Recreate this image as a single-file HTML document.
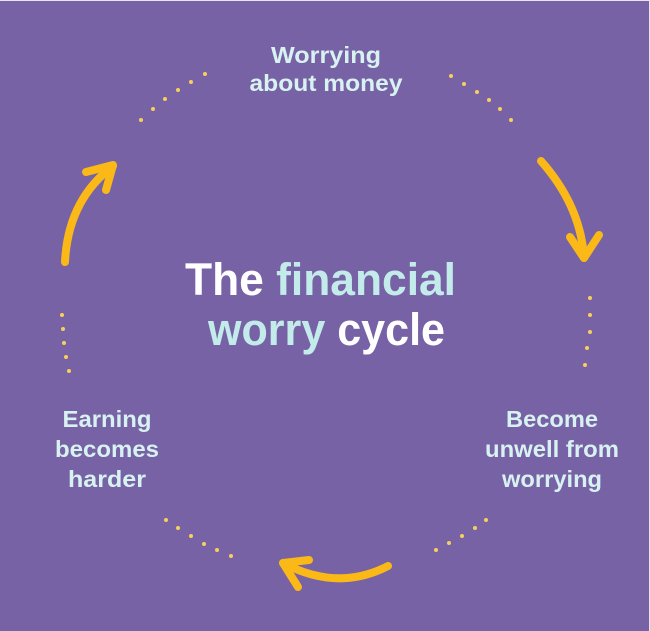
<!DOCTYPE html>
<html><head><meta charset="utf-8"><style>
html,body{margin:0;padding:0;background:#7762a6;}
svg{display:block;}
text{font-family:"Liberation Sans",sans-serif;font-weight:bold;}
</style></head><body>
<svg width="650" height="631" viewBox="0 0 650 631" xmlns="http://www.w3.org/2000/svg">
<rect width="650" height="631" fill="#7762a6"/>
<rect x="0" y="0" width="650" height="1" fill="#e8e4f0"/>
<rect x="649" y="0" width="1" height="631" fill="#e8e4f0"/>
<g fill="#f7cf5e">
<circle cx="141" cy="120" r="2"/><circle cx="153" cy="109" r="2"/><circle cx="165" cy="99" r="2"/><circle cx="178" cy="90" r="2"/><circle cx="191" cy="82" r="2"/><circle cx="205" cy="74" r="2"/>
<circle cx="451" cy="76" r="2"/><circle cx="464" cy="84" r="2"/><circle cx="477" cy="92" r="2"/><circle cx="489" cy="100" r="2"/><circle cx="500" cy="109" r="2"/><circle cx="511" cy="120" r="2"/>
<circle cx="590" cy="298" r="2"/><circle cx="590" cy="315" r="2"/><circle cx="590" cy="332" r="2"/><circle cx="587" cy="348" r="2"/><circle cx="585" cy="365" r="2"/>
<circle cx="62" cy="315" r="2"/><circle cx="63" cy="329" r="2"/><circle cx="64" cy="343" r="2"/><circle cx="66" cy="357" r="2"/><circle cx="69" cy="371" r="2"/>
<circle cx="166" cy="520" r="2"/><circle cx="178" cy="528" r="2"/><circle cx="191" cy="536" r="2"/><circle cx="204" cy="544" r="2"/><circle cx="217" cy="550" r="2"/><circle cx="231" cy="556" r="2"/>
<circle cx="436" cy="550" r="2"/><circle cx="449" cy="543" r="2"/><circle cx="462" cy="536" r="2"/><circle cx="475" cy="528" r="2"/><circle cx="486" cy="520" r="2"/>
</g>
<g fill="none" stroke="#fbb917" stroke-width="8" stroke-linecap="round" stroke-linejoin="round">
<path d="M541,161 Q580,205 584,257"/>
<path d="M570,237 L584,258 L599,235"/>
<path d="M65,262 Q68,200 113,166"/>
<path d="M86,172 L113,165 L106,190"/>
<path d="M388,566 Q338,592 283,563"/>
<path d="M309,560 L283,563 L298,587"/>
</g>
<g text-anchor="middle" fill="#d8f1f1" font-size="23">
<text x="326" y="63" textLength="110" lengthAdjust="spacingAndGlyphs">Worrying</text>
<text x="326" y="91" textLength="153" lengthAdjust="spacingAndGlyphs">about money</text>
<text x="107" y="427" textLength="89" lengthAdjust="spacingAndGlyphs">Earning</text>
<text x="107" y="457" textLength="104" lengthAdjust="spacingAndGlyphs">becomes</text>
<text x="107" y="487" textLength="78" lengthAdjust="spacingAndGlyphs">harder</text>
<text x="552" y="427" textLength="92" lengthAdjust="spacingAndGlyphs">Become</text>
<text x="552" y="457" textLength="134" lengthAdjust="spacingAndGlyphs">unwell from</text>
<text x="552" y="487" textLength="100" lengthAdjust="spacingAndGlyphs">worrying</text>
</g>
<text x="185" y="295" font-size="45" textLength="271" lengthAdjust="spacingAndGlyphs"><tspan fill="#ffffff">The </tspan><tspan fill="#c3ebea">financial</tspan></text>
<text x="208" y="345" font-size="45" textLength="237" lengthAdjust="spacingAndGlyphs"><tspan fill="#c3ebea">worry </tspan><tspan fill="#ffffff">cycle</tspan></text>
</svg>
</body></html>
